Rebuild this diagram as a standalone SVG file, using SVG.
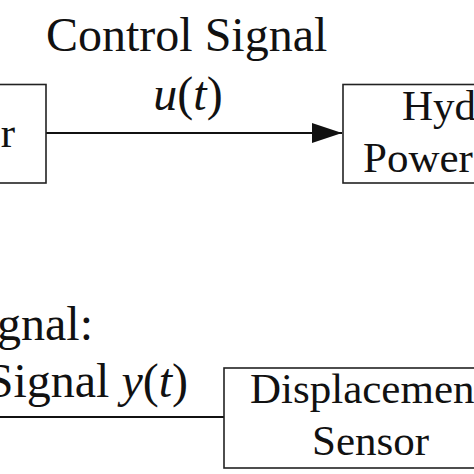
<svg xmlns="http://www.w3.org/2000/svg" width="474" height="474" viewBox="0 0 474 474">
<style>
.box{fill:#fff;stroke:#222;stroke-width:1.6}
.t{font-family:"Liberation Serif","Times New Roman",serif;fill:#111}
.lbl{font-size:48px}
.bt{font-size:43px}
.it{font-style:italic}
.wire{stroke:#111;stroke-width:2.2;fill:none}
</style>
<defs>
<marker id="ah" markerWidth="30" markerHeight="20" refX="30" refY="10" orient="auto" markerUnits="userSpaceOnUse">
<polygon points="0,0 30,10 0,20" fill="#111"/>
</marker>
</defs>
<rect width="474" height="474" fill="#fff"/>
<g id="connectors">
<line class="wire" x1="46" y1="133" x2="342" y2="133" marker-end="url(#ah)"/>
<line class="wire" x1="0" y1="417" x2="224" y2="417"/>
</g>
<g id="controller">
<rect class="box" x="-10" y="84.5" width="56" height="98.5"/>
<text class="t bt" x="15" y="147" text-anchor="end">r</text>
</g>
<g id="hydraulic">
<rect class="box" x="343" y="84.5" width="140" height="98.5"/>
<text class="t bt" x="402" y="120">Hyd</text>
<text class="t bt" x="363" y="172">Power</text>
</g>
<g id="sensor">
<rect class="box" x="224" y="368" width="260" height="100"/>
<text class="t bt" x="250" y="403">Displacemen</text>
<text class="t bt" x="312" y="455">Sensor</text>
</g>
<g id="labels">
<text class="t lbl" x="46" y="51">Control Signal</text>
<text class="t lbl" x="188" y="110" text-anchor="middle"><tspan class="it">u</tspan>(<tspan class="it">t</tspan>)</text>
<text class="t lbl" x="93" y="340" text-anchor="end">gnal:</text>
<text class="t lbl" x="188" y="397" text-anchor="end">Signal <tspan class="it">y</tspan>(<tspan class="it">t</tspan>)</text>
</g>
</svg>
